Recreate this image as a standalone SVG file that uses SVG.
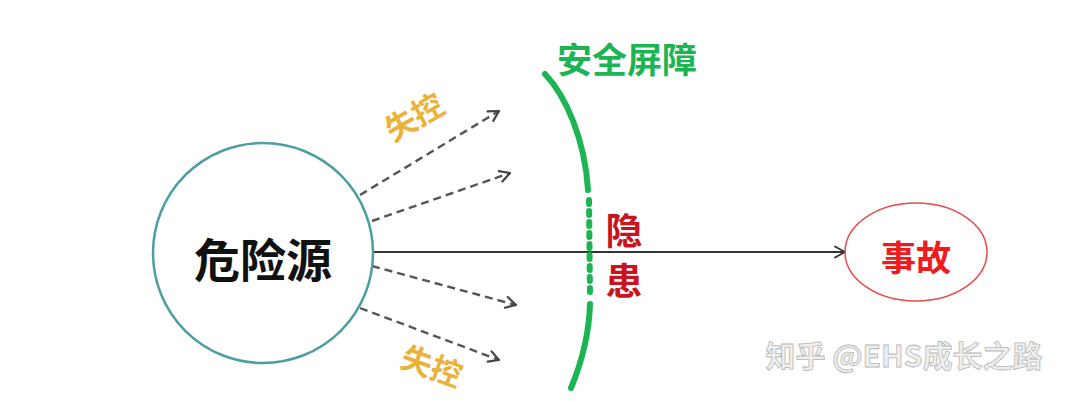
<svg xmlns="http://www.w3.org/2000/svg" width="1080" height="401" viewBox="0 0 1080 401">
<defs>
<marker id="arrSolid" viewBox="0 0 14 14" refX="12" refY="7" markerWidth="14" markerHeight="14" markerUnits="userSpaceOnUse" orient="auto">
<polyline points="2,1.5 12,7 2,12.5" fill="none" stroke="#333" stroke-width="1.8" stroke-linecap="round" stroke-linejoin="round"/>
</marker>
<marker id="arrDash" viewBox="0 0 14 14" refX="12" refY="7" markerWidth="14" markerHeight="14" markerUnits="userSpaceOnUse" orient="auto">
<polyline points="2,1.5 12,7 2,12.5" fill="none" stroke="#444" stroke-width="2.2" stroke-linecap="round" stroke-linejoin="round"/>
</marker>
</defs>
<style>
text{font-family:"Noto Sans CJK SC","Noto Sans",sans-serif;font-weight:bold;text-anchor:middle}
.dash{fill:none;stroke:#555;stroke-width:2.4;stroke-dasharray:8 5;marker-end:url(#arrDash)}
.lost{fill:#e9b23a;font-size:31px}
.barrier{fill:none;stroke:#1db454;stroke-width:6;stroke-linecap:round}
</style>
<rect width="1080" height="401" fill="#ffffff"/>
<g id="connectors">
<line x1="372" y1="252" x2="845" y2="252" stroke="#333" stroke-width="2" marker-end="url(#arrSolid)"/>
<line class="dash" x1="360" y1="195" x2="499" y2="111"/>
<line class="dash" x1="372" y1="221" x2="510" y2="173"/>
<line class="dash" x1="372" y1="266" x2="516" y2="305"/>
<line class="dash" x1="360" y1="308" x2="499" y2="360"/>
</g>
<g id="source">
<circle cx="263" cy="253" r="110" fill="none" stroke="#4d9ea3" stroke-width="2.5"/>
<text x="263" y="277" font-size="46" fill="#111">危险源</text>
</g>
<g id="accident">
<ellipse cx="916" cy="252" rx="71" ry="49" fill="none" stroke="#e84a4a" stroke-width="1.5"/>
<text x="916" y="271" font-size="35" fill="#ee1c1c">事故</text>
</g>
<g id="barrier">
<path class="barrier" d="M545,74 C566,96 585,140 588,190"/>
<path class="barrier" d="M589,200 L590,297" stroke-dasharray="4 7" stroke-linecap="butt"/>
<path class="barrier" d="M590,304 C589,336 581,364 571,388"/>
<text x="627" y="73" font-size="35" fill="#1db454">安全屏障</text>
</g>
<g id="hidden-danger">
<text x="624" y="245" font-size="37" fill="#c8141e">隐</text>
<text x="624" y="295" font-size="37" fill="#c8141e">患</text>
</g>
<g id="loss-of-control">
<text class="lost" transform="translate(420,127) rotate(-30)">失控</text>
<text class="lost" transform="translate(428,377) rotate(20)">失控</text>
</g>
<g id="watermark">
<text x="904" y="367" font-size="30" font-weight="normal" fill="#efefef" stroke="#b8b8b8" stroke-width="0.8">知乎 @EHS成长之路</text>
</g>
</svg>
